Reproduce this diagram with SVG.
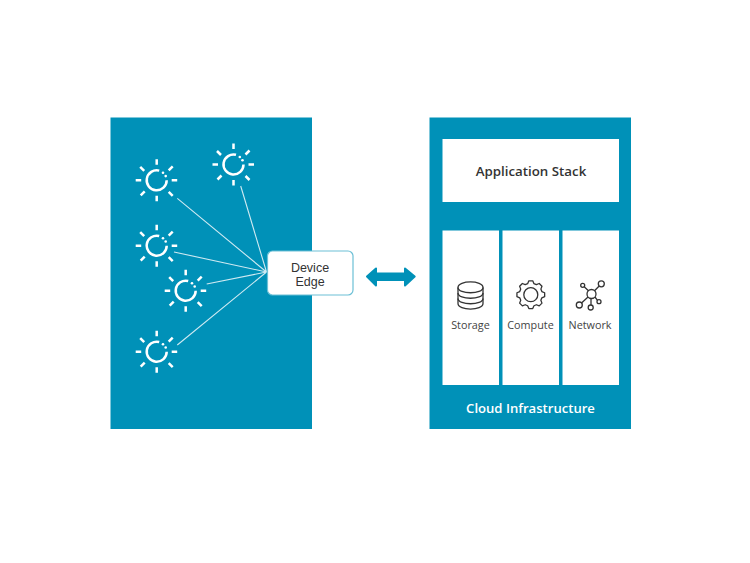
<svg xmlns="http://www.w3.org/2000/svg" xmlns:xlink="http://www.w3.org/1999/xlink" width="750" height="563" viewBox="0 0 750 563">
<style>
text{font-family:"Open Sans","Noto Sans","Liberation Sans",sans-serif;text-anchor:middle}
text.tight{font-family:"Liberation Sans",sans-serif}
.panel{fill:#0091b8}
.white{fill:#fff}
.wire{stroke:#cfeaf2;stroke-width:1.1;fill:none}
.ray{stroke:#fff;stroke-width:2.500;fill:none}
.ic{stroke:#333;stroke-width:1.300;fill:none;stroke-linejoin:round}
.lbl{font-size:10.800px;fill:#444}
</style>
<defs>
<g id="sun">
<path class="ray" d="M0-21V-15.500M0 15.500V21M-21 0H-15.500M15 0H20.500M-16.500-13.500-12.500-9.500M16-14 12-10M-16 15-12 11M16 15.500 12 11.500"/>
<path class="ray" d="M2.500-9.700A10 10 0 1 0 10 0"/>
<circle class="white" cx="6.300" cy="-7.500" r="1.300"/>
<circle class="white" cx="9" cy="-4.200" r="1.300"/>
</g>
</defs>
<g id="left-panel"><rect class="panel" x="110.500" y="117.500" width="201.500" height="311.500"/></g>
<g id="right-panel"><rect class="panel" x="429.500" y="117.500" width="201.500" height="311.500"/></g>
<g id="connectors">
<path class="wire" d="M177.300 198.300 266.500 272M240.700 186 266.500 272M174 252 266.500 272M206.700 284 266.500 272M177.300 345 266.500 272"/>
<path fill="#0091b8" stroke="#0091b8" stroke-width="2" stroke-linejoin="round" d="M367 276.500 376 268.500V273.500H405V268.500L414.700 276.500 405 285.500V280H376V285.500Z"/>
</g>
<g id="sun-1"><use xlink:href="#sun" href="#sun" x="156.700" y="180.300"/></g>
<g id="sun-2"><use xlink:href="#sun" href="#sun" x="233.500" y="164.500"/></g>
<g id="sun-3"><use xlink:href="#sun" href="#sun" x="156.700" y="245.700"/></g>
<g id="sun-4"><use xlink:href="#sun" href="#sun" x="185.700" y="290.700"/></g>
<g id="sun-5"><use xlink:href="#sun" href="#sun" x="156.700" y="351.700"/></g>
<g id="device-edge">
<rect x="267.500" y="251" width="85.500" height="44" rx="5" fill="#fff" stroke="#6cc0d6" stroke-width="1.200"/>
<text class="tight" x="310" y="271.500" font-size="12.500" fill="#333">Device</text>
<text class="tight" x="310" y="286" font-size="12.500" fill="#333">Edge</text>
</g>
<g id="application-stack">
<rect class="white" x="442.500" y="139" width="176.500" height="63"/>
<text x="531" y="176" font-size="13.300" font-weight="600" fill="#333">Application Stack</text>
</g>
<g id="storage">
<rect class="white" x="442.500" y="230.500" width="56.500" height="154.500"/>
<g class="ic">
<path d="M458 287.500C458 280 483 280 483 287.500V303.500C483 311 458 311 458 303.500Z"/>
<path d="M458 287.500C458 294.500 483 294.500 483 287.500M458 293C458 300 483 300 483 293M458 298.500C458 305.500 483 305.500 483 298.500"/>
</g>
<text class="lbl" x="470.500" y="329">Storage</text>
</g>
<g id="compute">
<rect class="white" x="502.500" y="230.500" width="56.500" height="154.500"/>
<g class="ic" transform="translate(530.800 294.700)">
<circle r="7"/>
<path d="M1.950-13.860 3.170-11.050 5.580-10.060 8.430-11.180 11.180-8.430 10.060-5.580 11.050-3.170 13.860-1.950V1.950L11.050 3.170 10.060 5.580 11.180 8.430 8.430 11.180 5.580 10.060 3.170 11.050 1.950 13.860H-1.950L-3.170 11.050-5.580 10.060-8.430 11.180-11.180 8.430-10.060 5.580-11.050 3.170-13.860 1.950V-1.950L-11.050-3.170-10.060-5.580-11.180-8.430-8.430-11.180-5.580-10.060-3.170-11.050-1.950-13.860Z"/>
</g>
<text class="lbl" x="530.500" y="329">Compute</text>
</g>
<g id="network">
<rect class="white" x="562.500" y="230.500" width="56.500" height="154.500"/>
<g class="ic">
<circle cx="591.500" cy="294" r="4.500"/>
<circle cx="601.300" cy="283.800" r="3"/>
<circle cx="582.700" cy="285.300" r="2"/>
<circle cx="579.300" cy="305" r="3"/>
<circle cx="590.700" cy="307.500" r="2.500"/>
<circle cx="599" cy="301.700" r="2"/>
<path d="M594.500 290.700 599.200 286M588.500 290.700 584.200 286.800M588 297 581.500 303M591 298.500V305M595 297 597.500 300.300"/>
</g>
<text class="lbl" x="590" y="329">Network</text>
</g>
<g id="cloud-infrastructure"><text x="530.500" y="413" font-size="13.100" font-weight="600" fill="#fff">Cloud Infrastructure</text></g>
</svg>
